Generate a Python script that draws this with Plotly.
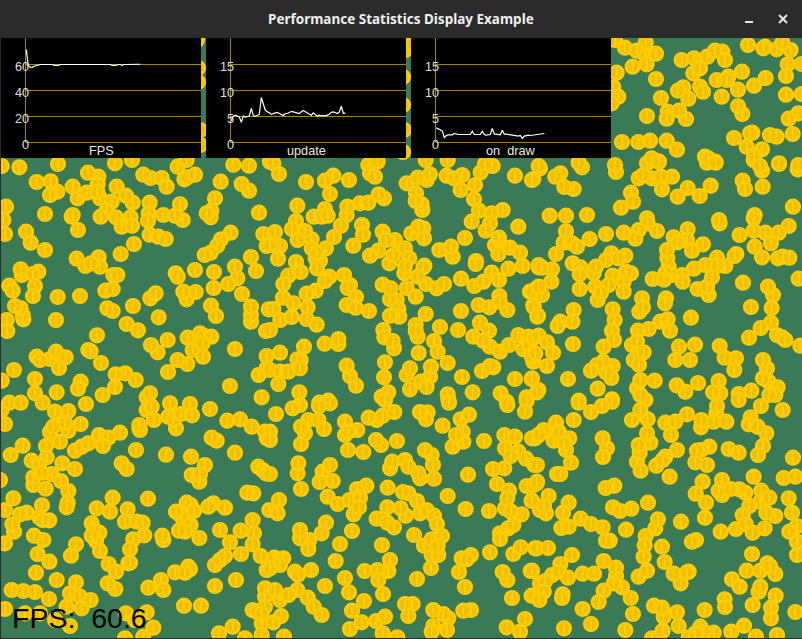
import plotly.graph_objects as go

W, H = 802, 639

# ---- statistics ----
fps_values = [71.5,59,58,57.8,58.7,59.3,59.5,60,60,60,60,60,60,60,59.3,59.3,59.3,60,60,60,60,60,60,60,60,60,60,60,60,60,60,60,60,60,60,60,60,60,60,60,60,60,60,59.3,59.3,59.3,60,60,59.3,60,60,60,60,60,60,60,60,60.2]
update_values = [4.2,5.05,5.25,5.05,4.9,3.9,5.1,4.9,5.05,5.1,6.55,5.2,5.05,5.25,5.4,8.65,7.2,6.2,5.9,5.75,5.4,5.58,5.7,5.77,5.58,5.32,5.19,5.58,5.58,5.77,5.96,5.9,5.83,5.77,5.58,5.9,6.15,5.9,5.7,5.45,5.26,5.7,5.32,5.06,5.26,5.13,5.19,5.13,5.26,5.45,5.83,5.9,5.77,5.58,5.83,7.0,5.58,5.7]
draw_values = [2.82,2.63,2.44,2.24,0.96,1.35,1.47,1.47,1.47,1.73,1.6,1.54,1.54,1.6,1.54,1.54,1.54,1.54,2.18,1.54,1.54,1.54,1.54,2.18,1.54,1.41,1.54,1.54,2.7,1.6,1.6,1.54,1.47,2.37,1.6,1.6,1.54,1.6,1.47,1.47,1.35,1.22,1.35,0.77,1.22,1.35,1.41,1.35,1.41,1.47,1.47,1.54,1.6,1.67,1.73]
fps_ticks = [0,20,40,60]
ms_ticks = [0,5,10,15]
panel_titles = ["FPS","update","on\u00a0\u00a0draw"]
fps_text = "FPS:\u00a0\u00a060.6"
window_title = "Performance Statistics Display Example"

coins_nw = [(5,18),(58,22),(174,12),(345,10),(396,0),(533,20),(560,0),(700,14),(747,17),(110,66),(172,95),(152,64),(150,105),(295,50),(264,38),(218,80),(233,115),(300,115),(293,72),(260,98),(292,95),(350,80),(398,128),(378,107),(335,125),(320,152),(302,170),(348,172),(392,172),(365,200),(396,197),(452,54),(430,44),(485,54),(500,80),(553,58),(562,52),(585,44),(662,65),(747,92),(725,72),(449,128),(540,133),(645,115),(634,152),(632,172),(620,160),(135,162),(215,170),(218,165),(234,210),(18,140),(10,180),(15,222),(78,215),(92,248),(135,270),(446,160),(444,182),(490,165),(548,180),(525,167),(777,158),(449,224),(475,230),(497,237),(402,252),(362,282),(692,218),(663,238),(652,257),(632,278),(614,285),(790,222),(800,258),(753,291),(296,292),(230,296),(256,318),(300,320),(273,310),(340,345),(352,345),(65,345),(62,328),(115,335),(99,342),(28,377),(38,392),(105,378),(99,408),(173,411),(240,408),(316,392),(338,387),(527,340),(533,350),(585,330),(642,336),(712,355),(705,320),(768,333),(685,372),(641,384),(726,402),(560,418),(587,396),(550,395),(451,415),(467,400),(399,438),(322,445),(338,453),(70,478),(68,465),(62,445),(45,438),(20,480),(22,513),(168,480),(633,437),(648,468),(753,485),(753,465),(753,440),(806,448),(476,472),(380,492),(414,511),(291,526),(798,513),(473,577),(453,555),(503,540),(600,520),(613,528),(634,530),(563,533),(578,570),(609,590),(608,550),(562,612),(533,600),(705,567),(800,588),(265,570),(272,574),(303,609),(150,597),(110,590),(120,600),(168,575),(197,592),(177,624),(42,630),(105,657),(5,662),(242,665),(234,686),(376,640),(347,643),(407,660),(345,681),(504,636),(690,678),(800,625),(776,645),(105,700),(170,697),(308,705),(440,712),(450,700),(785,712)]
coins_sw = [(5,30),(28,8),(62,8),(128,8),(258,12),(440,30),(455,20),(510,10),(570,12),(630,27),(165,35),(205,33),(15,72),(150,96),(205,92),(160,80),(195,68),(242,72),(420,90),(418,85),(418,75),(462,60),(528,85),(505,50),(520,58),(543,42),(576,46),(682,62),(720,58),(755,80),(800,115),(795,95),(360,98),(297,105),(325,113),(225,152),(245,140),(265,130),(309,138),(180,125),(138,138),(68,137),(32,165),(408,150),(498,164),(650,122),(635,113),(705,158),(573,170),(615,195),(598,245),(575,225),(600,222),(775,200),(788,210),(798,220),(140,172),(95,182),(117,195),(187,190),(225,207),(365,190),(380,207),(155,222),(100,255),(100,232),(125,218),(183,243),(137,266),(205,273),(0,240),(40,295),(126,316),(203,308),(200,322),(338,293),(444,296),(760,280),(742,278),(290,325),(330,335),(383,328),(640,310),(625,320),(675,323),(560,308),(572,315),(545,350),(528,335),(582,333),(808,330),(15,330),(80,338),(60,343),(118,352),(148,361),(128,360),(42,395),(37,373),(375,365),(410,365),(428,368),(298,398),(275,370),(282,390),(572,375),(555,395),(537,392),(660,390),(722,392),(762,400),(758,360),(130,420),(102,407),(288,423),(275,407),(433,406),(400,418),(490,420),(487,407),(598,414),(15,430),(228,433),(690,427),(758,433),(390,448),(113,462),(148,485),(213,467),(300,453),(326,492),(385,490),(390,488),(645,495),(660,480),(675,468),(723,462),(782,468),(108,518),(348,515),(525,517),(565,500),(570,508),(555,518),(800,510),(708,540),(170,540),(228,547),(346,567),(323,550),(483,540),(445,563),(490,570),(645,558),(35,570),(70,573),(105,576),(147,597),(210,580),(240,590),(245,625),(272,600),(200,620),(795,590),(795,565),(552,617),(603,617),(785,670),(758,630),(770,635),(795,620),(785,640),(15,627),(75,640),(120,640),(165,660),(210,678),(440,637),(378,640),(405,660),(460,683),(698,680),(657,700),(735,715),(785,705),(375,715),(430,710)]
coins_nc = [(0,5),(10,10),(27,42),(108,66),(190,47),(165,62),(237,60),(295,15),(323,5),(300,40),(315,50),(180,102),(410,70),(470,60),(443,53),(480,43),(467,0),(533,0),(530,47),(577,45),(552,55),(632,37),(668,18),(645,12),(735,47),(790,57),(810,25),(572,90),(615,75),(612,118),(457,150),(455,133),(438,100),(437,123),(82,137),(165,147),(230,165),(232,140),(270,130),(295,128),(342,115),(326,103),(131,170),(155,170),(173,167),(78,183),(66,207),(125,238),(105,213),(83,240),(213,197),(276,195),(279,224),(192,231),(250,257),(15,216),(30,258),(0,255),(24,296),(168,265),(125,265),(150,302),(137,295),(140,278),(78,306),(141,325),(338,215),(375,240),(348,240),(405,265),(325,272),(300,287),(358,310),(370,285),(418,295),(403,340),(405,318),(424,220),(460,205),(445,200),(462,235),(508,270),(548,290),(543,260),(585,234),(627,152),(698,150),(665,160),(660,190),(605,185),(647,212),(745,200),(675,255),(687,233),(720,263),(750,278),(685,282),(618,303),(617,312),(758,318),(715,326),(665,338),(806,322),(613,378),(640,365),(687,360),(573,356),(463,317),(460,322),(468,372),(443,350),(500,385),(522,372),(410,384),(437,410),(338,374),(380,420),(360,418),(362,385),(55,347),(92,336),(178,350),(165,363),(222,345),(240,375),(233,384),(40,372),(137,392),(110,401),(39,413),(70,430),(258,411),(230,435),(257,443),(297,453),(113,442),(10,447),(31,480),(65,471),(110,477),(140,494),(385,447),(388,470),(360,467),(467,462),(573,453),(626,435),(658,442),(712,450),(688,408),(689,425),(800,385),(780,395),(790,435),(802,470),(630,488),(657,512),(443,530),(437,495),(437,513),(510,501),(564,510),(340,510),(343,532),(372,565),(368,543),(205,552),(205,537),(164,551),(492,543),(503,575),(446,579),(102,560),(30,578),(660,560),(610,530),(640,542),(690,575),(717,555),(745,525),(760,568),(775,530),(778,553),(790,605),(790,580),(0,510),(92,600),(82,598),(258,677),(240,648),(230,617),(345,607),(342,652),(410,645),(420,625),(480,650),(483,620),(533,609),(636,633),(670,622),(660,618),(576,651),(735,657),(785,657),(805,690),(0,630),(30,635),(25,672),(55,635),(90,625),(88,697),(335,710),(355,697),(453,665),(420,688),(470,681),(535,718),(533,703),(608,697),(692,700),(770,712),(148,728),(175,722),(710,725)]
coins_sc = [(18,42),(90,15),(68,25),(180,10),(147,18),(345,0),(537,8),(712,15),(770,2),(765,35),(115,60),(145,60),(105,100),(93,80),(162,87),(93,132),(225,105),(225,65),(262,90),(235,95),(320,60),(296,53),(338,47),(373,36),(473,37),(468,58),(450,36),(518,77),(572,58),(597,44),(0,95),(0,120),(333,135),(318,120),(381,123),(234,150),(280,156),(578,95),(548,140),(580,125),(558,105),(642,123),(703,105),(735,110),(705,145),(800,110),(795,115),(485,165),(465,150),(489,195),(360,205),(367,185),(405,180),(415,200),(450,235),(445,220),(492,236),(703,205),(745,155),(722,168),(768,176),(793,195),(669,207),(594,224),(83,220),(85,190),(158,215),(180,195),(149,246),(188,243),(0,222),(93,267),(353,263),(415,280),(399,276),(289,257),(261,267),(681,252),(800,250),(770,258),(533,288),(173,290),(203,312),(238,300),(270,293),(251,343),(267,322),(27,300),(23,340),(407,347),(352,322),(392,325),(450,340),(470,330),(441,303),(492,347),(501,373),(320,356),(352,368),(372,382),(587,327),(657,333),(755,343),(705,325),(723,335),(717,272),(712,295),(785,302),(810,330),(715,385),(730,375),(168,368),(118,420),(90,415),(90,390),(155,400),(115,447),(246,393),(432,405),(485,465),(505,465),(462,437),(485,418),(516,408),(503,437),(690,400),(690,417),(210,432),(336,435),(660,457),(197,483),(13,473),(40,475),(30,495),(0,505),(75,515),(84,524),(123,510),(355,513),(360,480),(322,510),(284,513),(325,540),(483,504),(567,516),(603,465),(575,475),(590,478),(730,462),(752,442),(795,445),(712,540),(698,516),(782,513),(441,537),(225,534),(165,558),(585,561),(237,577),(30,600),(82,570),(15,570),(55,585),(113,593),(339,582),(282,603),(131,620),(155,645),(246,632),(428,612),(405,612),(415,648),(535,655),(520,642),(490,630),(603,630),(580,632),(726,594),(785,587),(810,550),(33,648),(10,667),(318,663),(275,667),(345,650),(240,687),(338,700),(382,712),(42,710),(490,678),(485,695),(531,690),(710,682),(765,657),(750,695)]
coins_ne = [(20,18),(0,60),(85,40),(70,50),(125,87),(97,81),(150,22),(140,8),(252,36),(345,10),(380,5),(525,8),(550,5),(665,0),(741,12),(690,32),(797,28),(320,55),(360,55),(333,46),(420,50),(387,50),(390,88),(297,98),(303,125),(267,143),(437,110),(467,84),(503,108),(536,77),(632,62),(639,87),(692,80),(783,140),(53,167),(102,167),(165,165),(345,175),(347,190),(375,213),(320,210),(275,218),(222,222),(310,236),(563,190),(561,180),(668,165),(665,175),(770,198),(102,214),(95,248),(120,250),(135,260),(173,237),(72,282),(425,232),(467,208),(465,240),(437,247),(513,253),(480,272),(410,320),(406,295),(405,270),(623,225),(700,218),(665,212),(740,218),(690,292),(668,260),(717,250),(738,295),(752,290),(772,293),(613,282),(608,288),(238,280),(280,287),(222,300),(258,295),(122,310),(145,322),(143,343),(185,340),(192,320),(297,340),(275,365),(282,335),(242,347),(20,315),(60,328),(58,365),(30,323),(580,318),(555,293),(520,315),(557,317),(486,326),(420,345),(400,340),(450,345),(362,357),(396,359),(452,365),(497,387),(530,405),(525,380),(540,352),(633,368),(723,405),(708,380),(800,356),(143,387),(197,420),(230,375),(190,380),(207,398),(275,395),(0,395),(30,405),(20,380),(330,415),(322,455),(333,442),(402,415),(399,430),(5,440),(18,467),(125,450),(657,441),(719,444),(248,480),(242,448),(477,473),(414,512),(385,485),(407,478),(85,485),(77,498),(121,485),(240,512),(350,507),(318,512),(246,540),(717,488),(686,504),(651,533),(735,525),(750,532),(760,540),(805,557),(5,533),(20,527),(45,547),(123,552),(215,560),(300,555),(315,545),(335,577),(441,560),(489,554),(563,558),(0,590),(10,580),(63,578),(45,618),(305,600),(321,614),(430,600),(474,600),(612,595),(578,593),(705,625),(693,600),(607,630),(242,618),(238,654),(222,637),(213,605),(195,615),(177,632),(108,657),(315,685),(325,660),(368,662),(710,665),(693,655),(0,655),(197,686),(460,695),(434,676),(498,669),(560,663),(565,700),(543,697),(620,702),(658,692),(737,682),(730,705),(712,705),(15,697),(140,722),(240,718),(340,720),(325,705)]
coins_se = [(140,8),(240,5),(210,18),(177,36),(347,58),(325,30),(300,60),(553,40),(555,18),(620,0),(687,18),(752,30),(465,43),(507,82),(508,60),(545,65),(583,65),(417,105),(400,68),(430,65),(703,100),(656,52),(650,73),(677,80),(72,68),(125,60),(0,115),(35,90),(22,103),(65,122),(80,95),(102,150),(112,115),(97,130),(355,128),(345,100),(315,185),(323,158),(320,135),(225,145),(212,115),(213,171),(373,197),(400,170),(392,180),(435,150),(490,187),(532,140),(507,150),(495,152),(590,147),(620,158),(693,138),(678,165),(525,195),(783,173),(15,195),(117,188),(326,212),(413,230),(75,222),(85,222),(665,230),(755,234),(790,230),(512,245),(570,285),(560,272),(570,240),(640,278),(622,268),(595,267),(5,255),(15,245),(247,257),(221,264),(491,281),(522,308),(688,272),(685,305),(712,293),(652,318),(770,295),(50,288),(0,302),(42,340),(36,318),(110,308),(93,338),(348,308),(243,322),(298,326),(264,333),(730,348),(703,338),(780,338),(632,345),(519,353),(612,387),(641,372),(566,395),(698,385),(662,398),(795,378),(772,395),(146,356),(177,372),(212,382),(88,384),(110,380),(370,385),(378,358),(447,365),(282,389),(341,408),(335,470),(338,436),(390,440),(492,420),(480,425),(233,422),(222,422),(795,425),(15,445),(48,444),(660,462),(795,465),(120,465),(215,483),(398,486),(730,522),(685,512),(706,490),(714,498),(644,512),(0,512),(85,492),(60,525),(80,515),(108,533),(152,521),(186,521),(252,528),(252,503),(320,530),(345,512),(446,550),(425,521),(470,515),(465,517),(600,538),(623,560),(680,575),(685,560),(270,562),(245,550),(215,572),(40,543),(35,575),(5,587),(22,600),(92,583),(90,594),(200,606),(296,594),(731,587),(578,598),(579,621),(662,615),(717,655),(717,623),(152,627),(395,650),(366,617),(390,623),(435,637),(518,630),(303,642),(790,636),(177,672),(96,685),(280,690),(440,678),(392,692),(545,698),(505,680),(515,695),(490,700),(598,695),(636,677),(672,710),(735,705),(360,715),(470,712)]
coins_top = [(45,120),(75,143),(137,128),(110,152),(137,168),(168,161),(140,193),(98,200),(50,218),(168,237),(245,180),(282,175),(322,170),(367,155),(345,152),(375,180),(280,220),(300,205),(350,240),(426,215),(385,230),(380,240),(444,135),(530,148),(495,140),(490,145),(572,150),(547,128),(563,193),(605,192),(558,228),(497,234),(462,257),(414,269),(365,290),(558,284),(605,282),(250,262),(234,272),(300,260),(309,275),(265,296),(183,294),(40,262),(55,290),(35,310),(203,335),(258,357),(237,332),(200,356),(141,348),(427,342),(414,319),(595,340),(566,356),(578,402),(457,398),(450,400),(402,414),(530,410),(510,405),(486,448),(440,440),(462,467),(66,426),(115,426),(150,422),(200,422),(231,449),(155,475),(177,485),(315,470),(325,475),(347,488),(537,490),(595,495),(480,498),(45,495)]
coins_strip_x = [197,198,198,200,200,405,403,403,404,403,412]
coins_strip_y = [40,68,82,130,145,50,77,105,130,152,43]

crops = [(coins_nw,0,160),(coins_sw,0,400),(coins_nc,270,160),(coins_sc,270,400),(coins_ne,532,160),(coins_se,532,400),(coins_top,600,0)]
coin_x = list(coins_strip_x)
coin_y = list(coins_strip_y)
for pts, ox, oy in crops:
    coin_x += [ox + p[0] / 3 for p in pts]
    coin_y += [oy + p[1] / 3 for p in pts]

RIM, FACE, BAR = "#FFCC00", "#F0BF00", "#FFD400"
AMAZON = "#3B7A57"
GRID = "#A08800"
CHROME = "#2B2B2B"


def fx(px):
    return px / W


def fy(px):
    return 1 - px / H


fig = go.Figure()

# every coin = disc then its bar, in one trace so the paint order holds
xs, ys, sym, size, col, lw, lc = [], [], [], [], [], [], []
for x, y in zip(coin_x, coin_y):
    xs += [x, x]
    ys += [y, y]
    sym += ["circle", "line-ns"]
    size += [13.6, 7]
    col += [FACE, BAR]
    lw += [2.6, 1.6]
    lc += [RIM, BAR]
fig.add_trace(go.Scatter(x=xs, y=ys, mode="markers", xaxis="x", yaxis="y", hoverinfo="skip",
                         marker=dict(symbol=sym, size=size, color=col, opacity=1, line=dict(width=lw, color=lc))))

panels = [(1, 25, 201, fps_values, fps_ticks, 80.4),
          (206, 230, 406, update_values, ms_ticks, 20.1),
          (411, 435, 611, draw_values, ms_ticks, 20.1)]
layout_axes = {}
shapes = [dict(type="rect", layer="below", xref="x domain", yref="y domain", x0=0, x1=1, y0=0, y1=1,
               fillcolor=AMAZON, line_width=0)]
annotations = []
for i, (left, axis_px, right, values, ticks, ymax) in enumerate(panels):
    n = i + 2
    # sample 0 sits 1.3 px right of the axis, samples are 2 px apart; 0 is at y=142.5 in a panel from y=38 to y=158
    x_low = (left - axis_px - 1.3) / 2
    x_high = (right - axis_px - 1.3) / 2
    x_axis = -0.4
    per_px = ymax / 104.5
    y_low = -(158 - 142.5) * per_px
    frame_x, frame_y = [x_axis, x_axis], [0, ymax]
    for t in ticks:
        frame_x += [None, x_axis, x_high]
        frame_y += [None, t, t]
    fig.add_trace(go.Scatter(x=frame_x, y=frame_y, mode="lines", xaxis=f"x{n}", yaxis=f"y{n}", hoverinfo="skip",
                             line=dict(color=GRID, width=1)))
    fig.add_trace(go.Scatter(x=list(range(len(values))), y=values, mode="lines", xaxis=f"x{n}", yaxis=f"y{n}",
                             hoverinfo="skip", line=dict(color="white", width=1.2)))
    layout_axes[f"xaxis{n}"] = dict(domain=[fx(left), fx(right)], range=[x_low, x_high], anchor=f"y{n}",
                                    visible=False, automargin=False)
    layout_axes[f"yaxis{n}"] = dict(domain=[fy(158), fy(38)], range=[y_low, ymax], anchor="free", position=fx(axis_px),
                                    tickvals=ticks, showgrid=False, zeroline=False, showline=False, automargin=False,
                                    ticks="", ticklabelstandoff=-4, ticklabelshift=2,
                                    tickfont=dict(family="Liberation Sans", size=12.6, color="#E4E0D8"))
    annotations.append(dict(text=panel_titles[i], xref="paper", yref="paper", x=fx((left + right) / 2), y=fy(151),
                            showarrow=False, xanchor="center", yanchor="middle",
                            font=dict(family="Liberation Sans", size=12.7, color="#EDEAE0")))

annotations.append(dict(text=window_title, xref="paper", yref="paper", x=fx(400.5), y=fy(19.5), showarrow=False,
                        xanchor="center", yanchor="middle",
                        font=dict(family="Noto Sans", size=13.5, color="#F0F0F0", weight="bold")))
annotations.append(dict(text=fps_text, xref="paper", yref="paper", x=fx(10), y=fy(618), showarrow=False,
                        xanchor="left", yanchor="middle", font=dict(family="Liberation Sans", size=28.5, color="black")))

shapes += [
    dict(type="line", xref="paper", yref="paper", x0=fx(745), x1=fx(753), y0=fy(22), y1=fy(22),
         line=dict(color="#E8E8E8", width=2), layer="above"),
    dict(type="line", xref="paper", yref="paper", x0=fx(779), x1=fx(787), y0=fy(15), y1=fy(23),
         line=dict(color="#E8E8E8", width=2), layer="above"),
    dict(type="line", xref="paper", yref="paper", x0=fx(779), x1=fx(787), y0=fy(23), y1=fy(15),
         line=dict(color="#E8E8E8", width=2), layer="above"),
]

fig.update_layout(
    width=W, height=H, margin=dict(l=0, r=0, t=0, b=0, pad=0), paper_bgcolor=CHROME, plot_bgcolor="black",
    showlegend=False, hovermode=False,
    xaxis=dict(domain=[fx(1), 1], range=[1, W], visible=False, fixedrange=True, automargin=False),
    yaxis=dict(domain=[fy(638), fy(38)], range=[638, 38], visible=False, fixedrange=True, automargin=False),
    shapes=shapes, annotations=annotations, **layout_axes)

fig.write_html("out.html", config=dict(displayModeBar=False),
               post_script="document.body.style.margin='0';document.body.style.overflow='hidden';window.dispatchEvent(new Event('resize'));")
